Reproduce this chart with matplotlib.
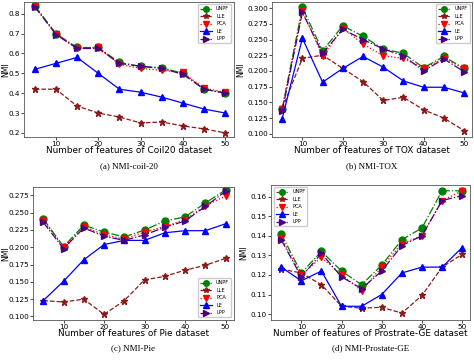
import matplotlib
matplotlib.use("Agg")
import matplotlib.pyplot as plt

features = [5, 10, 15, 20, 25, 30, 35, 40, 45, 50]
methods = ["UNPF", "LLE", "PCA", "LE", "LPP"]

coil_unpf = [0.84, 0.70, 0.63, 0.63, 0.555, 0.535, 0.528, 0.50, 0.42, 0.40]
coil_lle = [0.42, 0.42, 0.335, 0.30, 0.28, 0.25, 0.255, 0.235, 0.22, 0.20]
coil_pca = [0.84, 0.70, 0.625, 0.63, 0.545, 0.525, 0.515, 0.505, 0.425, 0.405]
coil_le = [0.52, 0.55, 0.58, 0.50, 0.42, 0.405, 0.38, 0.35, 0.32, 0.30]
coil_lpp = [0.835, 0.695, 0.625, 0.625, 0.55, 0.535, 0.525, 0.495, 0.42, 0.40]

tox_unpf = [0.14, 0.301, 0.232, 0.272, 0.255, 0.235, 0.228, 0.205, 0.223, 0.204]
tox_lle = [0.14, 0.220, 0.225, 0.204, 0.183, 0.153, 0.158, 0.138, 0.125, 0.105]
tox_pca = [0.14, 0.296, 0.223, 0.268, 0.243, 0.224, 0.220, 0.204, 0.220, 0.204]
tox_le = [0.124, 0.252, 0.182, 0.204, 0.223, 0.206, 0.184, 0.174, 0.174, 0.165]
tox_lpp = [0.136, 0.293, 0.228, 0.266, 0.250, 0.235, 0.224, 0.200, 0.219, 0.199]

pie_unpf = [0.241, 0.201, 0.232, 0.222, 0.215, 0.225, 0.238, 0.244, 0.264, 0.283]
pie_lle = [0.123, 0.121, 0.125, 0.103, 0.123, 0.153, 0.158, 0.167, 0.174, 0.184]
pie_pca = [0.239, 0.200, 0.230, 0.218, 0.212, 0.222, 0.230, 0.240, 0.260, 0.274]
pie_le = [0.123, 0.151, 0.182, 0.204, 0.210, 0.210, 0.221, 0.224, 0.224, 0.234]
pie_lpp = [0.236, 0.198, 0.228, 0.216, 0.210, 0.218, 0.229, 0.238, 0.259, 0.281]

pro_unpf = [0.141, 0.121, 0.132, 0.122, 0.115, 0.125, 0.138, 0.144, 0.163, 0.163]
pro_lle = [0.123, 0.121, 0.115, 0.104, 0.103, 0.1035, 0.1005, 0.1095, 0.124, 0.1305]
pro_pca = [0.139, 0.120, 0.129, 0.120, 0.112, 0.124, 0.136, 0.140, 0.158, 0.163]
pro_le = [0.124, 0.117, 0.122, 0.104, 0.104, 0.110, 0.121, 0.124, 0.124, 0.134]
pro_lpp = [0.138, 0.119, 0.131, 0.119, 0.113, 0.122, 0.135, 0.140, 0.158, 0.1605]

# style per method: color, marker, linestyle
styles = {
    "UNPF": ("green", "o", "-."),
    "LLE": ("#8b1a1a", "*", "--"),
    "PCA": ("red", "v", ":"),
    "LE": ("blue", "^", "-"),
    "LPP": ("indigo", ">", "-."),
}

# rect, data, dataset name, caption, ylim, yticks, tick format, legend loc, ylabel x, caption y
panels = [
    ([0.051, 0.624, 0.442, 0.371], [coil_unpf, coil_lle, coil_pca, coil_le, coil_lpp],
     "Coil20", "(a) NMI-coil-20", (0.18, 0.86), [0.2, 0.3, 0.4, 0.5, 0.6, 0.7, 0.8], "%.1f",
     "upper right", -0.068, -0.22),
    ([0.574, 0.624, 0.422, 0.371], [tox_unpf, tox_lle, tox_pca, tox_le, tox_lpp],
     "TOX", "(b) NMI-TOX", (0.095, 0.31), [0.1, 0.125, 0.15, 0.175, 0.2, 0.225, 0.25, 0.275, 0.3], "%.3f",
     "upper right", -0.135, -0.22),
    ([0.070, 0.121, 0.423, 0.365], [pie_unpf, pie_lle, pie_pca, pie_le, pie_lpp],
     "Pie", "(c) NMI-Pie", (0.095, 0.287), [0.1, 0.125, 0.15, 0.175, 0.2, 0.225, 0.25, 0.275], "%.3f",
     "lower right", -0.116, -0.21),
    ([0.572, 0.121, 0.420, 0.371], [pro_unpf, pro_lle, pro_pca, pro_le, pro_lpp],
     "Prostrate-GE", "(d) NMI-Prostate-GE", (0.097, 0.166), [0.10, 0.11, 0.12, 0.13, 0.14, 0.15, 0.16], "%.2f",
     "upper left", -0.115, -0.21),
]

fig = plt.figure(figsize=(4.74, 3.64), dpi=100)

for rect, series, name, caption, ylim, yticks, fmt, loc, ylab_x, cap_y in panels:
    ax = fig.add_axes(rect)
    for m, vals in zip(methods, series):
        c, mk, ls = styles[m]
        ax.plot(features, vals, color=c, marker=mk, linestyle=ls, markersize=5, linewidth=0.9, label=m)
    ax.set_ylim(*ylim)
    ax.set_xlim(2.5, 52)
    ax.set_xticks([10, 20, 30, 40, 50])
    ax.set_yticks(yticks)
    ax.set_yticklabels([fmt % t for t in yticks])
    ax.tick_params(labelsize=5.2, length=2, width=0.5, pad=1)
    for s in ax.spines.values():
        s.set_color("#555555")
        s.set_linewidth(0.6)
    ax.set_xlabel("Number of features of %s dataset" % name, fontsize=6.4, labelpad=-0.5)
    ax.set_ylabel("NMI", fontsize=5.6)
    ax.yaxis.set_label_coords(ylab_x, 0.5)
    ax.legend(loc=loc, fontsize=3.6, markerscale=0.8, handlelength=2.5, labelspacing=0.5, framealpha=1)
    # caption under the panel
    ax.text(0.5, cap_y, caption, transform=ax.transAxes, ha="center", va="center",
            fontsize=6.5, family="Liberation Serif")

fig.savefig("out.png", dpi=100)
